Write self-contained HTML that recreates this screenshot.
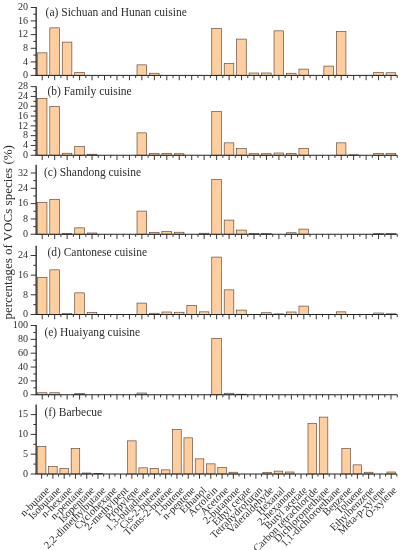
<!DOCTYPE html>
<html><head><meta charset="utf-8"><title>VOCs species by cuisine</title>
<style>html,body{margin:0;padding:0;background:#fff}svg{display:block;filter:blur(0.4px)}text{font-family:"Liberation Serif","Times New Roman",serif;fill:#2e2e2e}</style></head><body>
<svg width="400" height="550" viewBox="0 0 400 550">
<rect width="400" height="550" fill="#fff"/>
<g id="panel-a">
<rect x="37.35" y="52.85" width="9.60" height="22.55" fill="#FFCE9E" stroke="#5e4434" stroke-width="0.65"/>
<rect x="49.81" y="27.85" width="9.60" height="47.55" fill="#FFCE9E" stroke="#5e4434" stroke-width="0.65"/>
<rect x="62.26" y="42.10" width="9.60" height="33.30" fill="#FFCE9E" stroke="#5e4434" stroke-width="0.65"/>
<rect x="74.72" y="72.50" width="9.60" height="2.90" fill="#FFCE9E" stroke="#5e4434" stroke-width="0.65"/>
<rect x="137.01" y="64.85" width="9.60" height="10.55" fill="#FFCE9E" stroke="#5e4434" stroke-width="0.65"/>
<rect x="149.46" y="73.25" width="9.60" height="2.15" fill="#FFCE9E" stroke="#5e4434" stroke-width="0.65"/>
<rect x="211.75" y="28.35" width="9.60" height="47.05" fill="#FFCE9E" stroke="#5e4434" stroke-width="0.65"/>
<rect x="224.21" y="63.60" width="9.60" height="11.80" fill="#FFCE9E" stroke="#5e4434" stroke-width="0.65"/>
<rect x="236.66" y="39.10" width="9.60" height="36.30" fill="#FFCE9E" stroke="#5e4434" stroke-width="0.65"/>
<rect x="249.12" y="73.00" width="9.60" height="2.40" fill="#FFCE9E" stroke="#5e4434" stroke-width="0.65"/>
<rect x="261.58" y="73.00" width="9.60" height="2.40" fill="#FFCE9E" stroke="#5e4434" stroke-width="0.65"/>
<rect x="274.03" y="30.85" width="9.60" height="44.55" fill="#FFCE9E" stroke="#5e4434" stroke-width="0.65"/>
<rect x="286.49" y="73.25" width="9.60" height="2.15" fill="#FFCE9E" stroke="#5e4434" stroke-width="0.65"/>
<rect x="298.95" y="69.10" width="9.60" height="6.30" fill="#FFCE9E" stroke="#5e4434" stroke-width="0.65"/>
<rect x="323.86" y="66.10" width="9.60" height="9.30" fill="#FFCE9E" stroke="#5e4434" stroke-width="0.65"/>
<rect x="336.32" y="31.60" width="9.60" height="43.80" fill="#FFCE9E" stroke="#5e4434" stroke-width="0.65"/>
<rect x="373.69" y="72.50" width="9.60" height="2.90" fill="#FFCE9E" stroke="#5e4434" stroke-width="0.65"/>
<rect x="386.15" y="72.75" width="9.60" height="2.65" fill="#FFCE9E" stroke="#5e4434" stroke-width="0.65"/>
<path d="M36.15 7.05V75.4" fill="none" stroke="#222" stroke-width="1.3"/><path d="M35.5 75.4H397.25" fill="none" stroke="#222" stroke-width="1"/>
<path d="M42.23 75.4v4.8M48.46 75.4v2.6M54.69 75.4v4.8M60.91 75.4v2.6M67.14 75.4v4.8M73.37 75.4v2.6M79.60 75.4v4.8M85.83 75.4v2.6M92.06 75.4v4.8M98.28 75.4v2.6M104.51 75.4v4.8M110.74 75.4v2.6M116.97 75.4v4.8M123.20 75.4v2.6M129.43 75.4v4.8M135.66 75.4v2.6M141.88 75.4v4.8M148.11 75.4v2.6M154.34 75.4v4.8M160.57 75.4v2.6M166.80 75.4v4.8M173.03 75.4v2.6M179.26 75.4v4.8M185.48 75.4v2.6M191.71 75.4v4.8M197.94 75.4v2.6M204.17 75.4v4.8M210.40 75.4v2.6M216.63 75.4v4.8M222.86 75.4v2.6M229.08 75.4v4.8M235.31 75.4v2.6M241.54 75.4v4.8M247.77 75.4v2.6M254.00 75.4v4.8M260.23 75.4v2.6M266.45 75.4v4.8M272.68 75.4v2.6M278.91 75.4v4.8M285.14 75.4v2.6M291.37 75.4v4.8M297.60 75.4v2.6M303.83 75.4v4.8M310.05 75.4v2.6M316.28 75.4v4.8M322.51 75.4v2.6M328.74 75.4v4.8M334.97 75.4v2.6M341.20 75.4v4.8M347.43 75.4v2.6M353.65 75.4v4.8M359.88 75.4v2.6M366.11 75.4v4.8M372.34 75.4v2.6M378.57 75.4v4.8M384.80 75.4v2.6M391.02 75.4v4.8M397.25 75.4v2.6" stroke="#222" stroke-width="0.9" fill="none"/>
<path d="M36.0 75.4h-5.3M36.0 61.9h-5.3M36.0 48.3h-5.3M36.0 34.6h-5.3M36.0 20.9h-5.3M36.0 7.5h-5.3M36.0 68.65h-2.7M36.0 55.10h-2.7M36.0 41.45h-2.7M36.0 27.75h-2.7M36.0 14.20h-2.7" stroke="#222" stroke-width="0.9" fill="none"/>
<text x="28" y="78.10" font-size="10.1" text-anchor="end">0</text>
<text x="28" y="64.60" font-size="10.1" text-anchor="end">4</text>
<text x="28" y="51.00" font-size="10.1" text-anchor="end">8</text>
<text x="28" y="37.30" font-size="10.1" text-anchor="end">12</text>
<text x="28" y="23.60" font-size="10.1" text-anchor="end">16</text>
<text x="28" y="10.20" font-size="10.1" text-anchor="end">20</text>
<text x="45.6" y="15.6" font-size="11.5">(a) Sichuan and Hunan cuisine</text>
</g>
<g id="panel-b">
<rect x="37.35" y="98.60" width="9.60" height="56.65" fill="#FFCE9E" stroke="#5e4434" stroke-width="0.65"/>
<rect x="49.81" y="106.60" width="9.60" height="48.65" fill="#FFCE9E" stroke="#5e4434" stroke-width="0.65"/>
<rect x="62.26" y="153.25" width="9.60" height="2.00" fill="#FFCE9E" stroke="#5e4434" stroke-width="0.65"/>
<rect x="74.72" y="146.60" width="9.60" height="8.65" fill="#FFCE9E" stroke="#5e4434" stroke-width="0.65"/>
<rect x="87.18" y="154.25" width="9.60" height="1.00" fill="#FFCE9E" stroke="#5e4434" stroke-width="0.65"/>
<rect x="137.01" y="132.85" width="9.60" height="22.40" fill="#FFCE9E" stroke="#5e4434" stroke-width="0.65"/>
<rect x="149.46" y="153.50" width="9.60" height="1.75" fill="#FFCE9E" stroke="#5e4434" stroke-width="0.65"/>
<rect x="161.92" y="153.50" width="9.60" height="1.75" fill="#FFCE9E" stroke="#5e4434" stroke-width="0.65"/>
<rect x="174.38" y="153.75" width="9.60" height="1.50" fill="#FFCE9E" stroke="#5e4434" stroke-width="0.65"/>
<rect x="211.75" y="111.60" width="9.60" height="43.65" fill="#FFCE9E" stroke="#5e4434" stroke-width="0.65"/>
<rect x="224.21" y="142.85" width="9.60" height="12.40" fill="#FFCE9E" stroke="#5e4434" stroke-width="0.65"/>
<rect x="236.66" y="148.60" width="9.60" height="6.65" fill="#FFCE9E" stroke="#5e4434" stroke-width="0.65"/>
<rect x="249.12" y="153.75" width="9.60" height="1.50" fill="#FFCE9E" stroke="#5e4434" stroke-width="0.65"/>
<rect x="261.58" y="153.75" width="9.60" height="1.50" fill="#FFCE9E" stroke="#5e4434" stroke-width="0.65"/>
<rect x="274.03" y="153.00" width="9.60" height="2.25" fill="#FFCE9E" stroke="#5e4434" stroke-width="0.65"/>
<rect x="286.49" y="153.50" width="9.60" height="1.75" fill="#FFCE9E" stroke="#5e4434" stroke-width="0.65"/>
<rect x="298.95" y="148.35" width="9.60" height="6.90" fill="#FFCE9E" stroke="#5e4434" stroke-width="0.65"/>
<rect x="336.32" y="142.85" width="9.60" height="12.40" fill="#FFCE9E" stroke="#5e4434" stroke-width="0.65"/>
<rect x="348.78" y="154.80" width="9.60" height="0.45" fill="#FFCE9E" stroke="#5e4434" stroke-width="0.65"/>
<rect x="373.69" y="153.50" width="9.60" height="1.75" fill="#FFCE9E" stroke="#5e4434" stroke-width="0.65"/>
<rect x="386.15" y="153.50" width="9.60" height="1.75" fill="#FFCE9E" stroke="#5e4434" stroke-width="0.65"/>
<path d="M36.15 86.25V155.25" fill="none" stroke="#222" stroke-width="1.3"/><path d="M35.5 155.25H397.25" fill="none" stroke="#222" stroke-width="1"/>
<path d="M42.23 155.25v4.8M48.46 155.25v2.6M54.69 155.25v4.8M60.91 155.25v2.6M67.14 155.25v4.8M73.37 155.25v2.6M79.60 155.25v4.8M85.83 155.25v2.6M92.06 155.25v4.8M98.28 155.25v2.6M104.51 155.25v4.8M110.74 155.25v2.6M116.97 155.25v4.8M123.20 155.25v2.6M129.43 155.25v4.8M135.66 155.25v2.6M141.88 155.25v4.8M148.11 155.25v2.6M154.34 155.25v4.8M160.57 155.25v2.6M166.80 155.25v4.8M173.03 155.25v2.6M179.26 155.25v4.8M185.48 155.25v2.6M191.71 155.25v4.8M197.94 155.25v2.6M204.17 155.25v4.8M210.40 155.25v2.6M216.63 155.25v4.8M222.86 155.25v2.6M229.08 155.25v4.8M235.31 155.25v2.6M241.54 155.25v4.8M247.77 155.25v2.6M254.00 155.25v4.8M260.23 155.25v2.6M266.45 155.25v4.8M272.68 155.25v2.6M278.91 155.25v4.8M285.14 155.25v2.6M291.37 155.25v4.8M297.60 155.25v2.6M303.83 155.25v4.8M310.05 155.25v2.6M316.28 155.25v4.8M322.51 155.25v2.6M328.74 155.25v4.8M334.97 155.25v2.6M341.20 155.25v4.8M347.43 155.25v2.6M353.65 155.25v4.8M359.88 155.25v2.6M366.11 155.25v4.8M372.34 155.25v2.6M378.57 155.25v4.8M384.80 155.25v2.6M391.02 155.25v4.8M397.25 155.25v2.6" stroke="#222" stroke-width="0.9" fill="none"/>
<path d="M36.0 155.25h-5.3M36.0 145.45h-5.3M36.0 135.65h-5.3M36.0 125.85h-5.3M36.0 116.05h-5.3M36.0 106.25h-5.3M36.0 96.45h-5.3M36.0 86.65h-5.3M36.0 150.35h-2.7M36.0 140.55h-2.7M36.0 130.75h-2.7M36.0 120.95h-2.7M36.0 111.15h-2.7M36.0 101.35h-2.7M36.0 91.55h-2.7" stroke="#222" stroke-width="0.9" fill="none"/>
<text x="28" y="157.95" font-size="10.1" text-anchor="end">0</text>
<text x="28" y="148.15" font-size="10.1" text-anchor="end">4</text>
<text x="28" y="138.35" font-size="10.1" text-anchor="end">8</text>
<text x="28" y="128.55" font-size="10.1" text-anchor="end">12</text>
<text x="28" y="118.75" font-size="10.1" text-anchor="end">16</text>
<text x="28" y="108.95" font-size="10.1" text-anchor="end">20</text>
<text x="28" y="99.15" font-size="10.1" text-anchor="end">24</text>
<text x="28" y="89.35" font-size="10.1" text-anchor="end">28</text>
<text x="47.4" y="95.0" font-size="11.5">(b) Family cuisine</text>
</g>
<g id="panel-c">
<rect x="37.35" y="202.35" width="9.60" height="31.90" fill="#FFCE9E" stroke="#5e4434" stroke-width="0.65"/>
<rect x="49.81" y="199.35" width="9.60" height="34.90" fill="#FFCE9E" stroke="#5e4434" stroke-width="0.65"/>
<rect x="62.26" y="233.50" width="9.60" height="0.75" fill="#FFCE9E" stroke="#5e4434" stroke-width="0.65"/>
<rect x="74.72" y="227.85" width="9.60" height="6.40" fill="#FFCE9E" stroke="#5e4434" stroke-width="0.65"/>
<rect x="87.18" y="233.00" width="9.60" height="1.25" fill="#FFCE9E" stroke="#5e4434" stroke-width="0.65"/>
<rect x="137.01" y="211.10" width="9.60" height="23.15" fill="#FFCE9E" stroke="#5e4434" stroke-width="0.65"/>
<rect x="149.46" y="232.50" width="9.60" height="1.75" fill="#FFCE9E" stroke="#5e4434" stroke-width="0.65"/>
<rect x="161.92" y="231.50" width="9.60" height="2.75" fill="#FFCE9E" stroke="#5e4434" stroke-width="0.65"/>
<rect x="174.38" y="232.25" width="9.60" height="2.00" fill="#FFCE9E" stroke="#5e4434" stroke-width="0.65"/>
<rect x="199.29" y="233.25" width="9.60" height="1.00" fill="#FFCE9E" stroke="#5e4434" stroke-width="0.65"/>
<rect x="211.75" y="179.60" width="9.60" height="54.65" fill="#FFCE9E" stroke="#5e4434" stroke-width="0.65"/>
<rect x="224.21" y="220.10" width="9.60" height="14.15" fill="#FFCE9E" stroke="#5e4434" stroke-width="0.65"/>
<rect x="236.66" y="230.10" width="9.60" height="4.15" fill="#FFCE9E" stroke="#5e4434" stroke-width="0.65"/>
<rect x="249.12" y="233.60" width="9.60" height="0.65" fill="#FFCE9E" stroke="#5e4434" stroke-width="0.65"/>
<rect x="261.58" y="233.60" width="9.60" height="0.65" fill="#FFCE9E" stroke="#5e4434" stroke-width="0.65"/>
<rect x="286.49" y="232.75" width="9.60" height="1.50" fill="#FFCE9E" stroke="#5e4434" stroke-width="0.65"/>
<rect x="298.95" y="229.10" width="9.60" height="5.15" fill="#FFCE9E" stroke="#5e4434" stroke-width="0.65"/>
<rect x="373.69" y="233.60" width="9.60" height="0.65" fill="#FFCE9E" stroke="#5e4434" stroke-width="0.65"/>
<rect x="386.15" y="233.60" width="9.60" height="0.65" fill="#FFCE9E" stroke="#5e4434" stroke-width="0.65"/>
<path d="M36.15 164.85000000000002V234.25" fill="none" stroke="#222" stroke-width="1.3"/><path d="M35.5 234.25H397.25" fill="none" stroke="#222" stroke-width="1"/>
<path d="M42.23 234.25v4.8M48.46 234.25v2.6M54.69 234.25v4.8M60.91 234.25v2.6M67.14 234.25v4.8M73.37 234.25v2.6M79.60 234.25v4.8M85.83 234.25v2.6M92.06 234.25v4.8M98.28 234.25v2.6M104.51 234.25v4.8M110.74 234.25v2.6M116.97 234.25v4.8M123.20 234.25v2.6M129.43 234.25v4.8M135.66 234.25v2.6M141.88 234.25v4.8M148.11 234.25v2.6M154.34 234.25v4.8M160.57 234.25v2.6M166.80 234.25v4.8M173.03 234.25v2.6M179.26 234.25v4.8M185.48 234.25v2.6M191.71 234.25v4.8M197.94 234.25v2.6M204.17 234.25v4.8M210.40 234.25v2.6M216.63 234.25v4.8M222.86 234.25v2.6M229.08 234.25v4.8M235.31 234.25v2.6M241.54 234.25v4.8M247.77 234.25v2.6M254.00 234.25v4.8M260.23 234.25v2.6M266.45 234.25v4.8M272.68 234.25v2.6M278.91 234.25v4.8M285.14 234.25v2.6M291.37 234.25v4.8M297.60 234.25v2.6M303.83 234.25v4.8M310.05 234.25v2.6M316.28 234.25v4.8M322.51 234.25v2.6M328.74 234.25v4.8M334.97 234.25v2.6M341.20 234.25v4.8M347.43 234.25v2.6M353.65 234.25v4.8M359.88 234.25v2.6M366.11 234.25v4.8M372.34 234.25v2.6M378.57 234.25v4.8M384.80 234.25v2.6M391.02 234.25v4.8M397.25 234.25v2.6" stroke="#222" stroke-width="0.9" fill="none"/>
<path d="M36.0 234.25h-5.3M36.0 218.95h-5.3M36.0 203.6h-5.3M36.0 188.3h-5.3M36.0 173.0h-5.3M36.0 226.60h-2.7M36.0 211.27h-2.7M36.0 195.95h-2.7M36.0 180.65h-2.7" stroke="#222" stroke-width="0.9" fill="none"/>
<text x="28" y="236.95" font-size="10.1" text-anchor="end">0</text>
<text x="28" y="221.65" font-size="10.1" text-anchor="end">8</text>
<text x="28" y="206.30" font-size="10.1" text-anchor="end">16</text>
<text x="28" y="191.00" font-size="10.1" text-anchor="end">24</text>
<text x="28" y="175.70" font-size="10.1" text-anchor="end">32</text>
<text x="44.0" y="175.6" font-size="11.5">(c) Shandong cuisine</text>
</g>
<g id="panel-d">
<rect x="37.35" y="277.35" width="9.60" height="37.15" fill="#FFCE9E" stroke="#5e4434" stroke-width="0.65"/>
<rect x="49.81" y="269.85" width="9.60" height="44.65" fill="#FFCE9E" stroke="#5e4434" stroke-width="0.65"/>
<rect x="62.26" y="313.50" width="9.60" height="1.00" fill="#FFCE9E" stroke="#5e4434" stroke-width="0.65"/>
<rect x="74.72" y="292.85" width="9.60" height="21.65" fill="#FFCE9E" stroke="#5e4434" stroke-width="0.65"/>
<rect x="87.18" y="312.50" width="9.60" height="2.00" fill="#FFCE9E" stroke="#5e4434" stroke-width="0.65"/>
<rect x="137.01" y="303.10" width="9.60" height="11.40" fill="#FFCE9E" stroke="#5e4434" stroke-width="0.65"/>
<rect x="149.46" y="313.25" width="9.60" height="1.25" fill="#FFCE9E" stroke="#5e4434" stroke-width="0.65"/>
<rect x="161.92" y="312.00" width="9.60" height="2.50" fill="#FFCE9E" stroke="#5e4434" stroke-width="0.65"/>
<rect x="174.38" y="312.25" width="9.60" height="2.25" fill="#FFCE9E" stroke="#5e4434" stroke-width="0.65"/>
<rect x="186.83" y="305.35" width="9.60" height="9.15" fill="#FFCE9E" stroke="#5e4434" stroke-width="0.65"/>
<rect x="199.29" y="311.85" width="9.60" height="2.65" fill="#FFCE9E" stroke="#5e4434" stroke-width="0.65"/>
<rect x="211.75" y="257.10" width="9.60" height="57.40" fill="#FFCE9E" stroke="#5e4434" stroke-width="0.65"/>
<rect x="224.21" y="289.85" width="9.60" height="24.65" fill="#FFCE9E" stroke="#5e4434" stroke-width="0.65"/>
<rect x="236.66" y="310.10" width="9.60" height="4.40" fill="#FFCE9E" stroke="#5e4434" stroke-width="0.65"/>
<rect x="261.58" y="312.75" width="9.60" height="1.75" fill="#FFCE9E" stroke="#5e4434" stroke-width="0.65"/>
<rect x="274.03" y="313.90" width="9.60" height="0.60" fill="#FFCE9E" stroke="#5e4434" stroke-width="0.65"/>
<rect x="286.49" y="312.00" width="9.60" height="2.50" fill="#FFCE9E" stroke="#5e4434" stroke-width="0.65"/>
<rect x="298.95" y="306.10" width="9.60" height="8.40" fill="#FFCE9E" stroke="#5e4434" stroke-width="0.65"/>
<rect x="336.32" y="311.85" width="9.60" height="2.65" fill="#FFCE9E" stroke="#5e4434" stroke-width="0.65"/>
<rect x="373.69" y="313.00" width="9.60" height="1.50" fill="#FFCE9E" stroke="#5e4434" stroke-width="0.65"/>
<rect x="386.15" y="313.80" width="9.60" height="0.70" fill="#FFCE9E" stroke="#5e4434" stroke-width="0.65"/>
<path d="M36.15 245.75V314.5" fill="none" stroke="#222" stroke-width="1.3"/><path d="M35.5 314.5H397.25" fill="none" stroke="#222" stroke-width="1"/>
<path d="M42.23 314.5v4.8M48.46 314.5v2.6M54.69 314.5v4.8M60.91 314.5v2.6M67.14 314.5v4.8M73.37 314.5v2.6M79.60 314.5v4.8M85.83 314.5v2.6M92.06 314.5v4.8M98.28 314.5v2.6M104.51 314.5v4.8M110.74 314.5v2.6M116.97 314.5v4.8M123.20 314.5v2.6M129.43 314.5v4.8M135.66 314.5v2.6M141.88 314.5v4.8M148.11 314.5v2.6M154.34 314.5v4.8M160.57 314.5v2.6M166.80 314.5v4.8M173.03 314.5v2.6M179.26 314.5v4.8M185.48 314.5v2.6M191.71 314.5v4.8M197.94 314.5v2.6M204.17 314.5v4.8M210.40 314.5v2.6M216.63 314.5v4.8M222.86 314.5v2.6M229.08 314.5v4.8M235.31 314.5v2.6M241.54 314.5v4.8M247.77 314.5v2.6M254.00 314.5v4.8M260.23 314.5v2.6M266.45 314.5v4.8M272.68 314.5v2.6M278.91 314.5v4.8M285.14 314.5v2.6M291.37 314.5v4.8M297.60 314.5v2.6M303.83 314.5v4.8M310.05 314.5v2.6M316.28 314.5v4.8M322.51 314.5v2.6M328.74 314.5v4.8M334.97 314.5v2.6M341.20 314.5v4.8M347.43 314.5v2.6M353.65 314.5v4.8M359.88 314.5v2.6M366.11 314.5v4.8M372.34 314.5v2.6M378.57 314.5v4.8M384.80 314.5v2.6M391.02 314.5v4.8M397.25 314.5v2.6" stroke="#222" stroke-width="0.9" fill="none"/>
<path d="M36.0 314.5h-5.3M36.0 294.8h-5.3M36.0 275.15h-5.3M36.0 255.5h-5.3M36.0 304.65h-2.7M36.0 284.98h-2.7M36.0 265.32h-2.7" stroke="#222" stroke-width="0.9" fill="none"/>
<text x="28" y="317.20" font-size="10.1" text-anchor="end">0</text>
<text x="28" y="297.50" font-size="10.1" text-anchor="end">8</text>
<text x="28" y="277.85" font-size="10.1" text-anchor="end">16</text>
<text x="28" y="258.20" font-size="10.1" text-anchor="end">24</text>
<text x="47.4" y="256.0" font-size="11.5">(d) Cantonese cuisine</text>
</g>
<g id="panel-e">
<rect x="37.35" y="392.75" width="9.60" height="2.00" fill="#FFCE9E" stroke="#5e4434" stroke-width="0.65"/>
<rect x="49.81" y="392.75" width="9.60" height="2.00" fill="#FFCE9E" stroke="#5e4434" stroke-width="0.65"/>
<rect x="74.72" y="393.50" width="9.60" height="1.25" fill="#FFCE9E" stroke="#5e4434" stroke-width="0.65"/>
<rect x="137.01" y="393.00" width="9.60" height="1.75" fill="#FFCE9E" stroke="#5e4434" stroke-width="0.65"/>
<rect x="211.75" y="338.35" width="9.60" height="56.40" fill="#FFCE9E" stroke="#5e4434" stroke-width="0.65"/>
<rect x="224.21" y="393.25" width="9.60" height="1.50" fill="#FFCE9E" stroke="#5e4434" stroke-width="0.65"/>
<rect x="236.66" y="394.20" width="9.60" height="0.55" fill="#FFCE9E" stroke="#5e4434" stroke-width="0.65"/>
<path d="M36.15 325.05V394.75" fill="none" stroke="#222" stroke-width="1.3"/><path d="M35.5 394.75H397.25" fill="none" stroke="#222" stroke-width="1"/>
<path d="M42.23 394.75v4.8M48.46 394.75v2.6M54.69 394.75v4.8M60.91 394.75v2.6M67.14 394.75v4.8M73.37 394.75v2.6M79.60 394.75v4.8M85.83 394.75v2.6M92.06 394.75v4.8M98.28 394.75v2.6M104.51 394.75v4.8M110.74 394.75v2.6M116.97 394.75v4.8M123.20 394.75v2.6M129.43 394.75v4.8M135.66 394.75v2.6M141.88 394.75v4.8M148.11 394.75v2.6M154.34 394.75v4.8M160.57 394.75v2.6M166.80 394.75v4.8M173.03 394.75v2.6M179.26 394.75v4.8M185.48 394.75v2.6M191.71 394.75v4.8M197.94 394.75v2.6M204.17 394.75v4.8M210.40 394.75v2.6M216.63 394.75v4.8M222.86 394.75v2.6M229.08 394.75v4.8M235.31 394.75v2.6M241.54 394.75v4.8M247.77 394.75v2.6M254.00 394.75v4.8M260.23 394.75v2.6M266.45 394.75v4.8M272.68 394.75v2.6M278.91 394.75v4.8M285.14 394.75v2.6M291.37 394.75v4.8M297.60 394.75v2.6M303.83 394.75v4.8M310.05 394.75v2.6M316.28 394.75v4.8M322.51 394.75v2.6M328.74 394.75v4.8M334.97 394.75v2.6M341.20 394.75v4.8M347.43 394.75v2.6M353.65 394.75v4.8M359.88 394.75v2.6M366.11 394.75v4.8M372.34 394.75v2.6M378.57 394.75v4.8M384.80 394.75v2.6M391.02 394.75v4.8M397.25 394.75v2.6" stroke="#222" stroke-width="0.9" fill="none"/>
<path d="M36.0 394.75h-5.3M36.0 380.9h-5.3M36.0 367.05h-5.3M36.0 353.2h-5.3M36.0 339.35h-5.3M36.0 325.5h-5.3M36.0 387.82h-2.7M36.0 373.98h-2.7M36.0 360.12h-2.7M36.0 346.27h-2.7M36.0 332.43h-2.7" stroke="#222" stroke-width="0.9" fill="none"/>
<text x="28" y="397.45" font-size="10.1" text-anchor="end">0</text>
<text x="28" y="383.60" font-size="10.1" text-anchor="end">20</text>
<text x="28" y="369.75" font-size="10.1" text-anchor="end">40</text>
<text x="28" y="355.90" font-size="10.1" text-anchor="end">60</text>
<text x="28" y="342.05" font-size="10.1" text-anchor="end">80</text>
<text x="28" y="328.20" font-size="10.1" text-anchor="end">100</text>
<text x="44.4" y="335.6" font-size="11.5">(e) Huaiyang cuisine</text>
</g>
<g id="panel-f">
<rect x="37.35" y="446.60" width="8.55" height="27.40" fill="#FFCE9E" stroke="#5e4434" stroke-width="0.65"/>
<rect x="48.63" y="466.60" width="8.55" height="7.40" fill="#FFCE9E" stroke="#5e4434" stroke-width="0.65"/>
<rect x="59.90" y="468.60" width="8.55" height="5.40" fill="#FFCE9E" stroke="#5e4434" stroke-width="0.65"/>
<rect x="71.18" y="448.60" width="8.55" height="25.40" fill="#FFCE9E" stroke="#5e4434" stroke-width="0.65"/>
<rect x="82.46" y="473.00" width="8.55" height="1.00" fill="#FFCE9E" stroke="#5e4434" stroke-width="0.65"/>
<rect x="93.73" y="473.50" width="8.55" height="0.50" fill="#FFCE9E" stroke="#5e4434" stroke-width="0.65"/>
<rect x="127.57" y="440.85" width="8.55" height="33.15" fill="#FFCE9E" stroke="#5e4434" stroke-width="0.65"/>
<rect x="138.84" y="467.85" width="8.55" height="6.15" fill="#FFCE9E" stroke="#5e4434" stroke-width="0.65"/>
<rect x="150.12" y="468.35" width="8.55" height="5.65" fill="#FFCE9E" stroke="#5e4434" stroke-width="0.65"/>
<rect x="161.40" y="469.85" width="8.55" height="4.15" fill="#FFCE9E" stroke="#5e4434" stroke-width="0.65"/>
<rect x="172.67" y="429.60" width="8.55" height="44.40" fill="#FFCE9E" stroke="#5e4434" stroke-width="0.65"/>
<rect x="183.95" y="437.85" width="8.55" height="36.15" fill="#FFCE9E" stroke="#5e4434" stroke-width="0.65"/>
<rect x="195.23" y="458.85" width="8.55" height="15.15" fill="#FFCE9E" stroke="#5e4434" stroke-width="0.65"/>
<rect x="206.50" y="463.85" width="8.55" height="10.15" fill="#FFCE9E" stroke="#5e4434" stroke-width="0.65"/>
<rect x="217.78" y="467.35" width="8.55" height="6.65" fill="#FFCE9E" stroke="#5e4434" stroke-width="0.65"/>
<rect x="229.06" y="472.25" width="8.55" height="1.75" fill="#FFCE9E" stroke="#5e4434" stroke-width="0.65"/>
<rect x="262.89" y="472.50" width="8.55" height="1.50" fill="#FFCE9E" stroke="#5e4434" stroke-width="0.65"/>
<rect x="274.17" y="471.10" width="8.55" height="2.90" fill="#FFCE9E" stroke="#5e4434" stroke-width="0.65"/>
<rect x="285.44" y="472.00" width="8.55" height="2.00" fill="#FFCE9E" stroke="#5e4434" stroke-width="0.65"/>
<rect x="308.00" y="423.60" width="8.55" height="50.40" fill="#FFCE9E" stroke="#5e4434" stroke-width="0.65"/>
<rect x="319.27" y="417.10" width="8.55" height="56.90" fill="#FFCE9E" stroke="#5e4434" stroke-width="0.65"/>
<rect x="341.83" y="448.60" width="8.55" height="25.40" fill="#FFCE9E" stroke="#5e4434" stroke-width="0.65"/>
<rect x="353.11" y="464.85" width="8.55" height="9.15" fill="#FFCE9E" stroke="#5e4434" stroke-width="0.65"/>
<rect x="364.38" y="472.25" width="8.55" height="1.75" fill="#FFCE9E" stroke="#5e4434" stroke-width="0.65"/>
<rect x="386.94" y="472.00" width="8.55" height="2.00" fill="#FFCE9E" stroke="#5e4434" stroke-width="0.65"/>
<path d="M36.15 404.55V474.0" fill="none" stroke="#222" stroke-width="1.3"/><path d="M35.5 474.0H396.86" fill="none" stroke="#222" stroke-width="1"/>
<path d="M41.64 474.0v4.8M47.28 474.0v2.6M52.92 474.0v4.8M58.55 474.0v2.6M64.19 474.0v4.8M69.83 474.0v2.6M75.47 474.0v4.8M81.11 474.0v2.6M86.75 474.0v4.8M92.38 474.0v2.6M98.02 474.0v4.8M103.66 474.0v2.6M109.30 474.0v4.8M114.94 474.0v2.6M120.58 474.0v4.8M126.22 474.0v2.6M131.85 474.0v4.8M137.49 474.0v2.6M143.13 474.0v4.8M148.77 474.0v2.6M154.41 474.0v4.8M160.05 474.0v2.6M165.69 474.0v4.8M171.32 474.0v2.6M176.96 474.0v4.8M182.60 474.0v2.6M188.24 474.0v4.8M193.88 474.0v2.6M199.52 474.0v4.8M205.16 474.0v2.6M210.79 474.0v4.8M216.43 474.0v2.6M222.07 474.0v4.8M227.71 474.0v2.6M233.35 474.0v4.8M238.99 474.0v2.6M244.62 474.0v4.8M250.26 474.0v2.6M255.90 474.0v4.8M261.54 474.0v2.6M267.18 474.0v4.8M272.82 474.0v2.6M278.46 474.0v4.8M284.09 474.0v2.6M289.73 474.0v4.8M295.37 474.0v2.6M301.01 474.0v4.8M306.65 474.0v2.6M312.29 474.0v4.8M317.92 474.0v2.6M323.56 474.0v4.8M329.20 474.0v2.6M334.84 474.0v4.8M340.48 474.0v2.6M346.12 474.0v4.8M351.76 474.0v2.6M357.39 474.0v4.8M363.03 474.0v2.6M368.67 474.0v4.8M374.31 474.0v2.6M379.95 474.0v4.8M385.59 474.0v2.6M391.23 474.0v4.8M396.86 474.0v2.6" stroke="#222" stroke-width="0.9" fill="none"/>
<path d="M36.0 474.0h-5.3M36.0 454.2h-5.3M36.0 434.4h-5.3M36.0 414.6h-5.3M36.0 464.10h-2.7M36.0 444.30h-2.7M36.0 424.50h-2.7" stroke="#222" stroke-width="0.9" fill="none"/>
<text x="28" y="476.70" font-size="10.1" text-anchor="end">0</text>
<text x="28" y="456.90" font-size="10.1" text-anchor="end">5</text>
<text x="28" y="437.10" font-size="10.1" text-anchor="end">10</text>
<text x="28" y="417.30" font-size="10.1" text-anchor="end">15</text>
<text x="44.4" y="416.0" font-size="11.5">(f) Barbecue</text>
</g>
<text transform="translate(12.4 319.6) rotate(-90)" font-size="13">percentages of VOCs species (%)</text>
<g id="xlabels" font-size="10.6" text-anchor="end">
<text transform="translate(50.40 490.8) rotate(-45)">n-butane</text>
<text transform="translate(61.59 490.8) rotate(-45)">Isobutane</text>
<text transform="translate(72.78 490.8) rotate(-45)">n-hexane</text>
<text transform="translate(83.96 490.8) rotate(-45)">n-pentane</text>
<text transform="translate(95.15 490.8) rotate(-45)">Isopentane</text>
<text transform="translate(106.34 490.8) rotate(-45)">2,2-dimethylbutane</text>
<text transform="translate(117.53 490.8) rotate(-45)">Cyclohexane</text>
<text transform="translate(128.72 490.8) rotate(-45)">2-methylpent</text>
<text transform="translate(139.90 490.8) rotate(-45)">Propylene</text>
<text transform="translate(151.09 490.8) rotate(-45)">1,3-butadiene</text>
<text transform="translate(162.28 490.8) rotate(-45)">Cis-2-butene</text>
<text transform="translate(173.47 490.8) rotate(-45)">Trans-2-butene</text>
<text transform="translate(184.66 490.8) rotate(-45)">1-butene</text>
<text transform="translate(195.84 490.8) rotate(-45)">n-pentene</text>
<text transform="translate(207.03 490.8) rotate(-45)">Ethanol</text>
<text transform="translate(218.22 490.8) rotate(-45)">Acrolein</text>
<text transform="translate(229.41 490.8) rotate(-45)">Acetone</text>
<text transform="translate(240.60 490.8) rotate(-45)">2-butanone</text>
<text transform="translate(251.78 490.8) rotate(-45)">Ethyl cetate</text>
<text transform="translate(262.97 490.8) rotate(-45)">Tetrahydrofuran</text>
<text transform="translate(274.16 490.8) rotate(-45)">Valeraldehyde</text>
<text transform="translate(285.35 490.8) rotate(-45)">Hexanal</text>
<text transform="translate(296.54 490.8) rotate(-45)">2-hexanone</text>
<text transform="translate(307.72 490.8) rotate(-45)">Butyl acetate</text>
<text transform="translate(318.91 490.8) rotate(-45)">Carbon tetrachloride</text>
<text transform="translate(330.10 490.8) rotate(-45)">Dichloromethane</text>
<text transform="translate(341.29 490.8) rotate(-45)">1,1-dichloroethane</text>
<text transform="translate(352.48 490.8) rotate(-45)">Benzene</text>
<text transform="translate(363.66 490.8) rotate(-45)">Toluene</text>
<text transform="translate(374.85 490.8) rotate(-45)">Ethylbenzene</text>
<text transform="translate(386.04 490.8) rotate(-45)">Meta-p-xylene</text>
<text transform="translate(397.23 490.8) rotate(-45)">O-xylene</text>
</g>
</svg></body></html>
